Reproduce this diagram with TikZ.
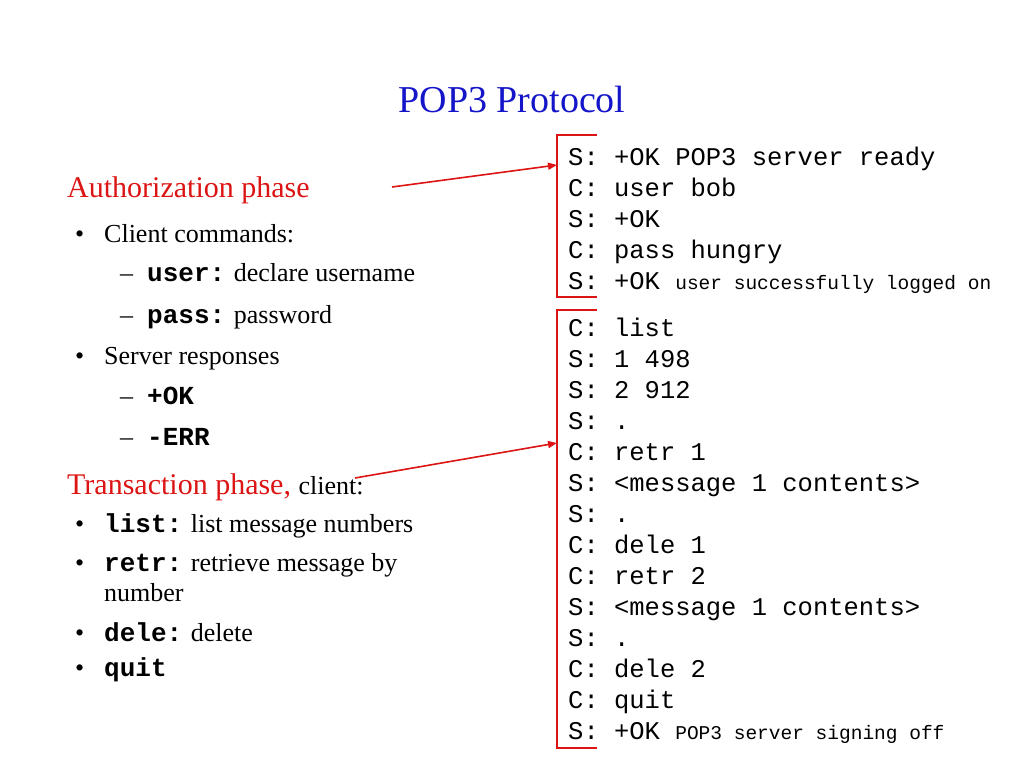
\documentclass[tikz,border=0pt]{standalone}
\usepackage{fontspec}
\setmainfont{Liberation Serif}
\setmonofont{Liberation Mono}
\usetikzlibrary{arrows.meta}
\definecolor{titleblue}{RGB}{20,20,200}
\definecolor{phasered}{RGB}{220,20,20}
\newcommand{\codesmall}{\fontsize{19.5}{22}\selectfont}
\begin{document}
\begin{tikzpicture}[x=1pt,y=-1pt,
    txt/.style={anchor=base west, inner sep=0pt, font=\fontsize{26}{30}\selectfont},
    phase/.style={txt, text=phasered, font=\fontsize{30}{34}\selectfont},
    code/.style={anchor=base west, inner sep=0pt, font=\ttfamily\fontsize{25.5}{30}\selectfont},
    bracket/.style={draw=phasered, line width=1.6pt},
    pointer/.style={draw=phasered, line width=1.6pt, -{Triangle[length=9pt,width=7pt]}}
  ]
  \useasboundingbox (0,0) rectangle (1024,768);
  \node[font=\fontsize{38}{42}\selectfont, text=titleblue] (title) at (512,100) {POP3 Protocol};

  % left column
  \node[phase] (auth) at (67,197) {Authorization phase};
  \node[txt] at (75,242) {\textbullet};
  \node[txt] (cc) at (104,242) {Client commands:};
  \node[txt] at (120,281) {\textendash};
  \node[txt] at (147,281) {\textbf{\texttt{user:}} declare username};
  \node[txt] at (120,323) {\textendash};
  \node[txt] at (147,323) {\textbf{\texttt{pass:}} password};
  \node[txt] at (75,364) {\textbullet};
  \node[txt] at (104,364) {Server responses};
  \node[txt] at (120,404) {\textendash};
  \node[txt] at (147,404) {\textbf{\texttt{+OK}}};
  \node[txt] at (120,445) {\textendash};
  \node[txt] at (147,445) {\textbf{\texttt{-ERR}}};
  \node[phase] (trans) at (67,494) {Transaction phase, {\fontsize{26}{30}\selectfont\color{black}client:}};
  \foreach \y/\t in {532/{\textbf{\texttt{list:}} list message numbers},
                     571/{\textbf{\texttt{retr:}} retrieve message by},
                     641/{\textbf{\texttt{dele:}} delete},
                     676/{\textbf{\texttt{quit}}}} {
    \node[txt] at (75,\y) {\textbullet};
    \node[txt] at (104,\y) {\t};
  }
  \node[txt] at (104,601) {number};

  % right column: authorization dialogue
  \foreach \i/\t in {0/{S: +OK POP3 server ready}, 1/{C: user bob}, 2/{S: +OK},
                     3/{C: pass hungry}, 4/{S: +OK {\codesmall user successfully logged on}}} {
    \node[code] (a\i) at (568,165+31*\i) {\t};
  }
  % right column: transaction dialogue
  \foreach \i/\t in {0/{C: list}, 1/{S: 1 498}, 2/{S: 2 912}, 3/{S: .}, 4/{C: retr 1},
                     5/{S: <message 1 contents>}, 6/{S: .}, 7/{C: dele 1}, 8/{C: retr 2},
                     9/{S: <message 1 contents>}, 10/{S: .}, 11/{C: dele 2}, 12/{C: quit},
                     13/{S: +OK {\codesmall POP3 server signing off}}} {
    \node[code] (t\i) at (568,336+31*\i) {\t};
  }

  % brackets
  \coordinate (b1) at (557,165);
  \coordinate (b2) at (557,443);
  \draw[bracket] (597,135) -- (557,135) -- (557,297) -- (597,297);
  \draw[bracket] (597,310) -- (557,310) -- (557,748) -- (597,748);

  % pointers
  \coordinate (p1) at (392,187);
  \coordinate (p2) at (355,478);
  \draw[pointer] (p1) -- (b1);
  \draw[pointer] (p2) -- (b2);
\end{tikzpicture}
\end{document}
